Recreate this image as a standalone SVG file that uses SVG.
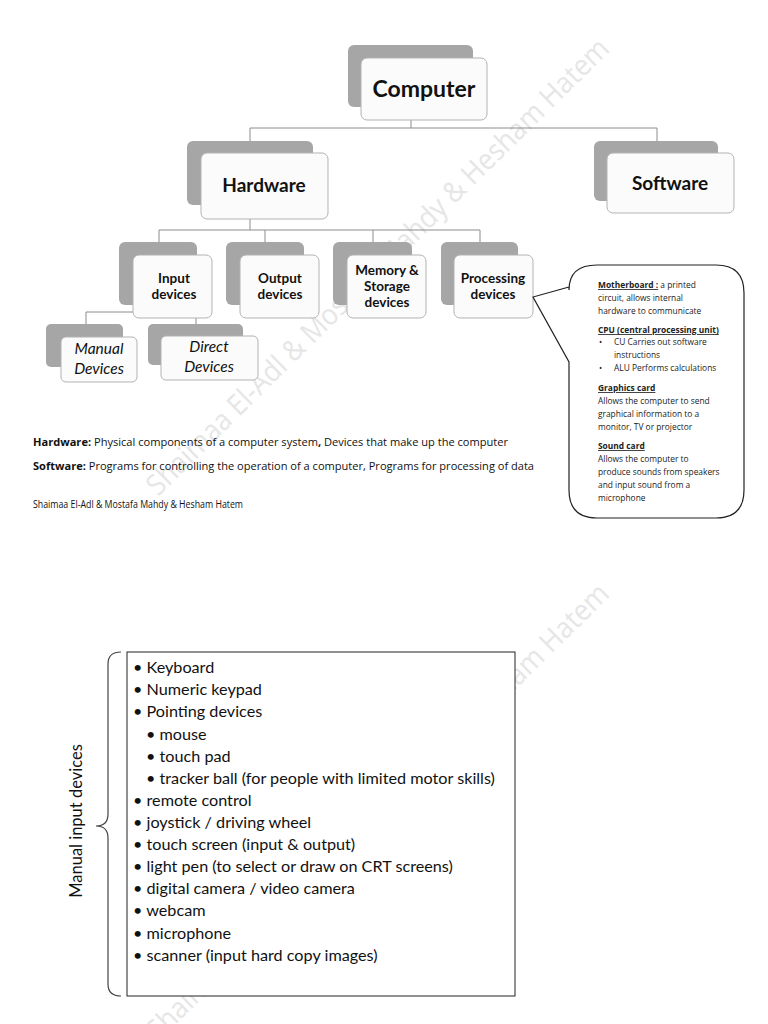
<svg xmlns="http://www.w3.org/2000/svg" width="768" height="1024" viewBox="0 0 768 1024">
<style>
.bg{fill:#a6a6a6;}
.fr{fill:#fbfbfb;stroke:#b3b3b3;stroke-width:1;}
.lbl{font-family:Lato,"Open Sans","Liberation Sans",sans-serif;font-weight:bold;fill:#111;text-anchor:middle;}
.it{font-family:Lato,"Open Sans","Liberation Sans",sans-serif;font-style:italic;fill:#111;text-anchor:middle;font-size:15.5px;}
.con{fill:none;stroke:#8c8c8c;stroke-width:1;}
.wm{font-family:"Open Sans","Liberation Sans",sans-serif;fill:#e6e6e6;font-size:29px;}
.sm{font-family:"Open Sans","Liberation Sans",sans-serif;font-size:8.4px;fill:#222;}
.smb{font-weight:bold;text-decoration:underline;}
.def{font-family:"Open Sans","Liberation Sans",sans-serif;font-size:10.5px;fill:#111;}
.li{font-family:Lato,"Open Sans","Liberation Sans",sans-serif;font-size:16.2px;fill:#111;}
</style>
<rect width="768" height="1024" fill="#ffffff"/>
<g id="watermarks">
<text class="wm" x="158" y="497" transform="rotate(-44.6 158 497)" textLength="636" lengthAdjust="spacingAndGlyphs">Shaimaa El-Adl &amp; Mostafa Mahdy &amp; Hesham Hatem</text>
<text class="wm" x="158" y="1042" transform="rotate(-44.6 158 1042)" textLength="636" lengthAdjust="spacingAndGlyphs">Shaimaa El-Adl &amp; Mostafa Mahdy &amp; Hesham Hatem</text>
</g>
<g id="connectors">
<path class="con" d="M411 120 V128 M250 128 H657 M250 128 V141 M657 128 V141"/>
<path class="con" d="M250 219 V230 M159 230 H480 M159 230 V242 M265 230 V242 M373 230 V242 M480 230 V242"/>
<path class="con" d="M159 305 V312 M86 312 H196 M86 312 V324 M196 312 V324"/>
</g>
<g id="computer">
<rect class="bg" x="348" y="45" width="125" height="62" rx="6"/>
<rect class="fr" x="361" y="58" width="126" height="62" rx="6"/>
<text class="lbl" x="424" y="97" font-size="23">Computer</text>
</g>
<g id="hardware">
<rect class="bg" x="187" y="141" width="126" height="64" rx="6"/>
<rect class="fr" x="201" y="153" width="127" height="66" rx="6"/>
<text class="lbl" x="264" y="192" font-size="19">Hardware</text>
</g>
<g id="software">
<rect class="bg" x="594" y="141" width="124" height="60" rx="6"/>
<rect class="fr" x="607" y="153" width="127" height="60" rx="6"/>
<text class="lbl" x="670" y="190" font-size="19">Software</text>
</g>
<g id="input">
<rect class="bg" x="119" y="242" width="78" height="63" rx="6"/>
<rect class="fr" x="133" y="255" width="79" height="63" rx="6"/>
<text class="lbl" x="174" y="283" font-size="13.5">Input</text>
<text class="lbl" x="174" y="299" font-size="13.5">devices</text>
</g>
<g id="output">
<rect class="bg" x="226" y="242" width="78" height="63" rx="6"/>
<rect class="fr" x="240" y="255" width="79" height="63" rx="6"/>
<text class="lbl" x="280" y="283" font-size="13.5">Output</text>
<text class="lbl" x="280" y="299" font-size="13.5">devices</text>
</g>
<g id="memory">
<rect class="bg" x="333" y="242" width="79" height="63" rx="6"/>
<rect class="fr" x="347" y="255" width="79" height="63" rx="6"/>
<text class="lbl" x="387" y="275" font-size="13.5">Memory &amp;</text>
<text class="lbl" x="387" y="291" font-size="13.5">Storage</text>
<text class="lbl" x="387" y="307" font-size="13.5">devices</text>
</g>
<g id="processing">
<rect class="bg" x="441" y="242" width="77" height="63" rx="6"/>
<rect class="fr" x="454" y="255" width="79" height="63" rx="6"/>
<text class="lbl" x="493" y="283" font-size="13.5">Processing</text>
<text class="lbl" x="493" y="299" font-size="13.5">devices</text>
</g>
<g id="manual">
<rect class="bg" x="46" y="324" width="77" height="43" rx="5"/>
<rect class="fr" x="61" y="337" width="76" height="45" rx="5"/>
<text class="it" x="99" y="354">Manual</text>
<text class="it" x="99" y="374">Devices</text>
</g>
<g id="direct">
<rect class="bg" x="148" y="324" width="95" height="41" rx="5"/>
<rect class="fr" x="161" y="336" width="97" height="44" rx="5"/>
<text class="it" x="209" y="352">Direct</text>
<text class="it" x="209" y="372">Devices</text>
</g>
<g id="callout">
<path d="M569 290 Q569 265 597 265 H716 Q744 265 744 293 V490 Q744 518 716 518 H597 Q569 518 569 490 V362 L533 297 L569 287 Z" fill="#ffffff" stroke="#222" stroke-width="1.2"/>
<text class="sm" x="598" y="288"><tspan class="smb">Motherboard :</tspan> a printed</text>
<text class="sm" x="598" y="301">circuit, allows internal</text>
<text class="sm" x="598" y="314">hardware to communicate</text>
<text class="sm smb" x="598" y="333">CPU (central processing unit)</text>
<text class="sm" x="599" y="345" font-size="7">•</text>
<text class="sm" x="614" y="345" font-size="7.3">CU Carries out software</text>
<text class="sm" x="614" y="358" font-size="7.3">instructions</text>
<text class="sm" x="599" y="371" font-size="7">•</text>
<text class="sm" x="614" y="371" font-size="7.3">ALU Performs calculations</text>
<text class="sm smb" x="598" y="391">Graphics card</text>
<text class="sm" x="598" y="404">Allows the computer to send</text>
<text class="sm" x="598" y="417">graphical information to a</text>
<text class="sm" x="598" y="430">monitor, TV or projector</text>
<text class="sm smb" x="598" y="449">Sound card</text>
<text class="sm" x="598" y="462">Allows the computer to</text>
<text class="sm" x="598" y="475">produce sounds from speakers</text>
<text class="sm" x="598" y="488">and input sound from a</text>
<text class="sm" x="598" y="501">microphone</text>
</g>
<g id="definitions">
<text class="def" x="33" y="446" textLength="475" lengthAdjust="spacingAndGlyphs"><tspan font-weight="bold">Hardware:</tspan> Physical components of a computer system<tspan font-weight="bold">,</tspan> Devices that make up the computer</text>
<text class="def" x="33" y="470" textLength="501" lengthAdjust="spacingAndGlyphs"><tspan font-weight="bold">Software:</tspan> Programs for controlling the operation of a computer, Programs for processing of data</text>
<text class="def" x="33" y="508" font-size="7" textLength="210" lengthAdjust="spacingAndGlyphs">Shaimaa El-Adl &amp; Mostafa Mahdy &amp; Hesham Hatem</text>
</g>
<g id="manual-list">
<path d="M121 652 Q108 652 108 664 V814 Q108 826 96 826 Q108 826 108 838 V984 Q108 996 121 996" fill="none" stroke="#444" stroke-width="1.2"/>
<text x="82" y="821" transform="rotate(-90 82 821)" text-anchor="middle" font-family="Lato,'Open Sans','Liberation Sans',sans-serif" font-size="16.5" fill="#111">Manual input devices</text>
<rect x="127" y="652" width="388" height="344" fill="#ffffff" stroke="#222" stroke-width="1"/>
<text class="li" x="133" y="673">• Keyboard</text>
<text class="li" x="133" y="695">• Numeric keypad</text>
<text class="li" x="133" y="717">• Pointing devices</text>
<text class="li" x="146" y="740">• mouse</text>
<text class="li" x="146" y="762">• touch pad</text>
<text class="li" x="146" y="784">• tracker ball (for people with limited motor skills)</text>
<text class="li" x="133" y="806">• remote control</text>
<text class="li" x="133" y="828">• joystick / driving wheel</text>
<text class="li" x="133" y="850">• touch screen (input &amp; output)</text>
<text class="li" x="133" y="872">• light pen (to select or draw on CRT screens)</text>
<text class="li" x="133" y="894">• digital camera / video camera</text>
<text class="li" x="133" y="916">• webcam</text>
<text class="li" x="133" y="939">• microphone</text>
<text class="li" x="133" y="961">• scanner (input hard copy images)</text>
</g>
</svg>
